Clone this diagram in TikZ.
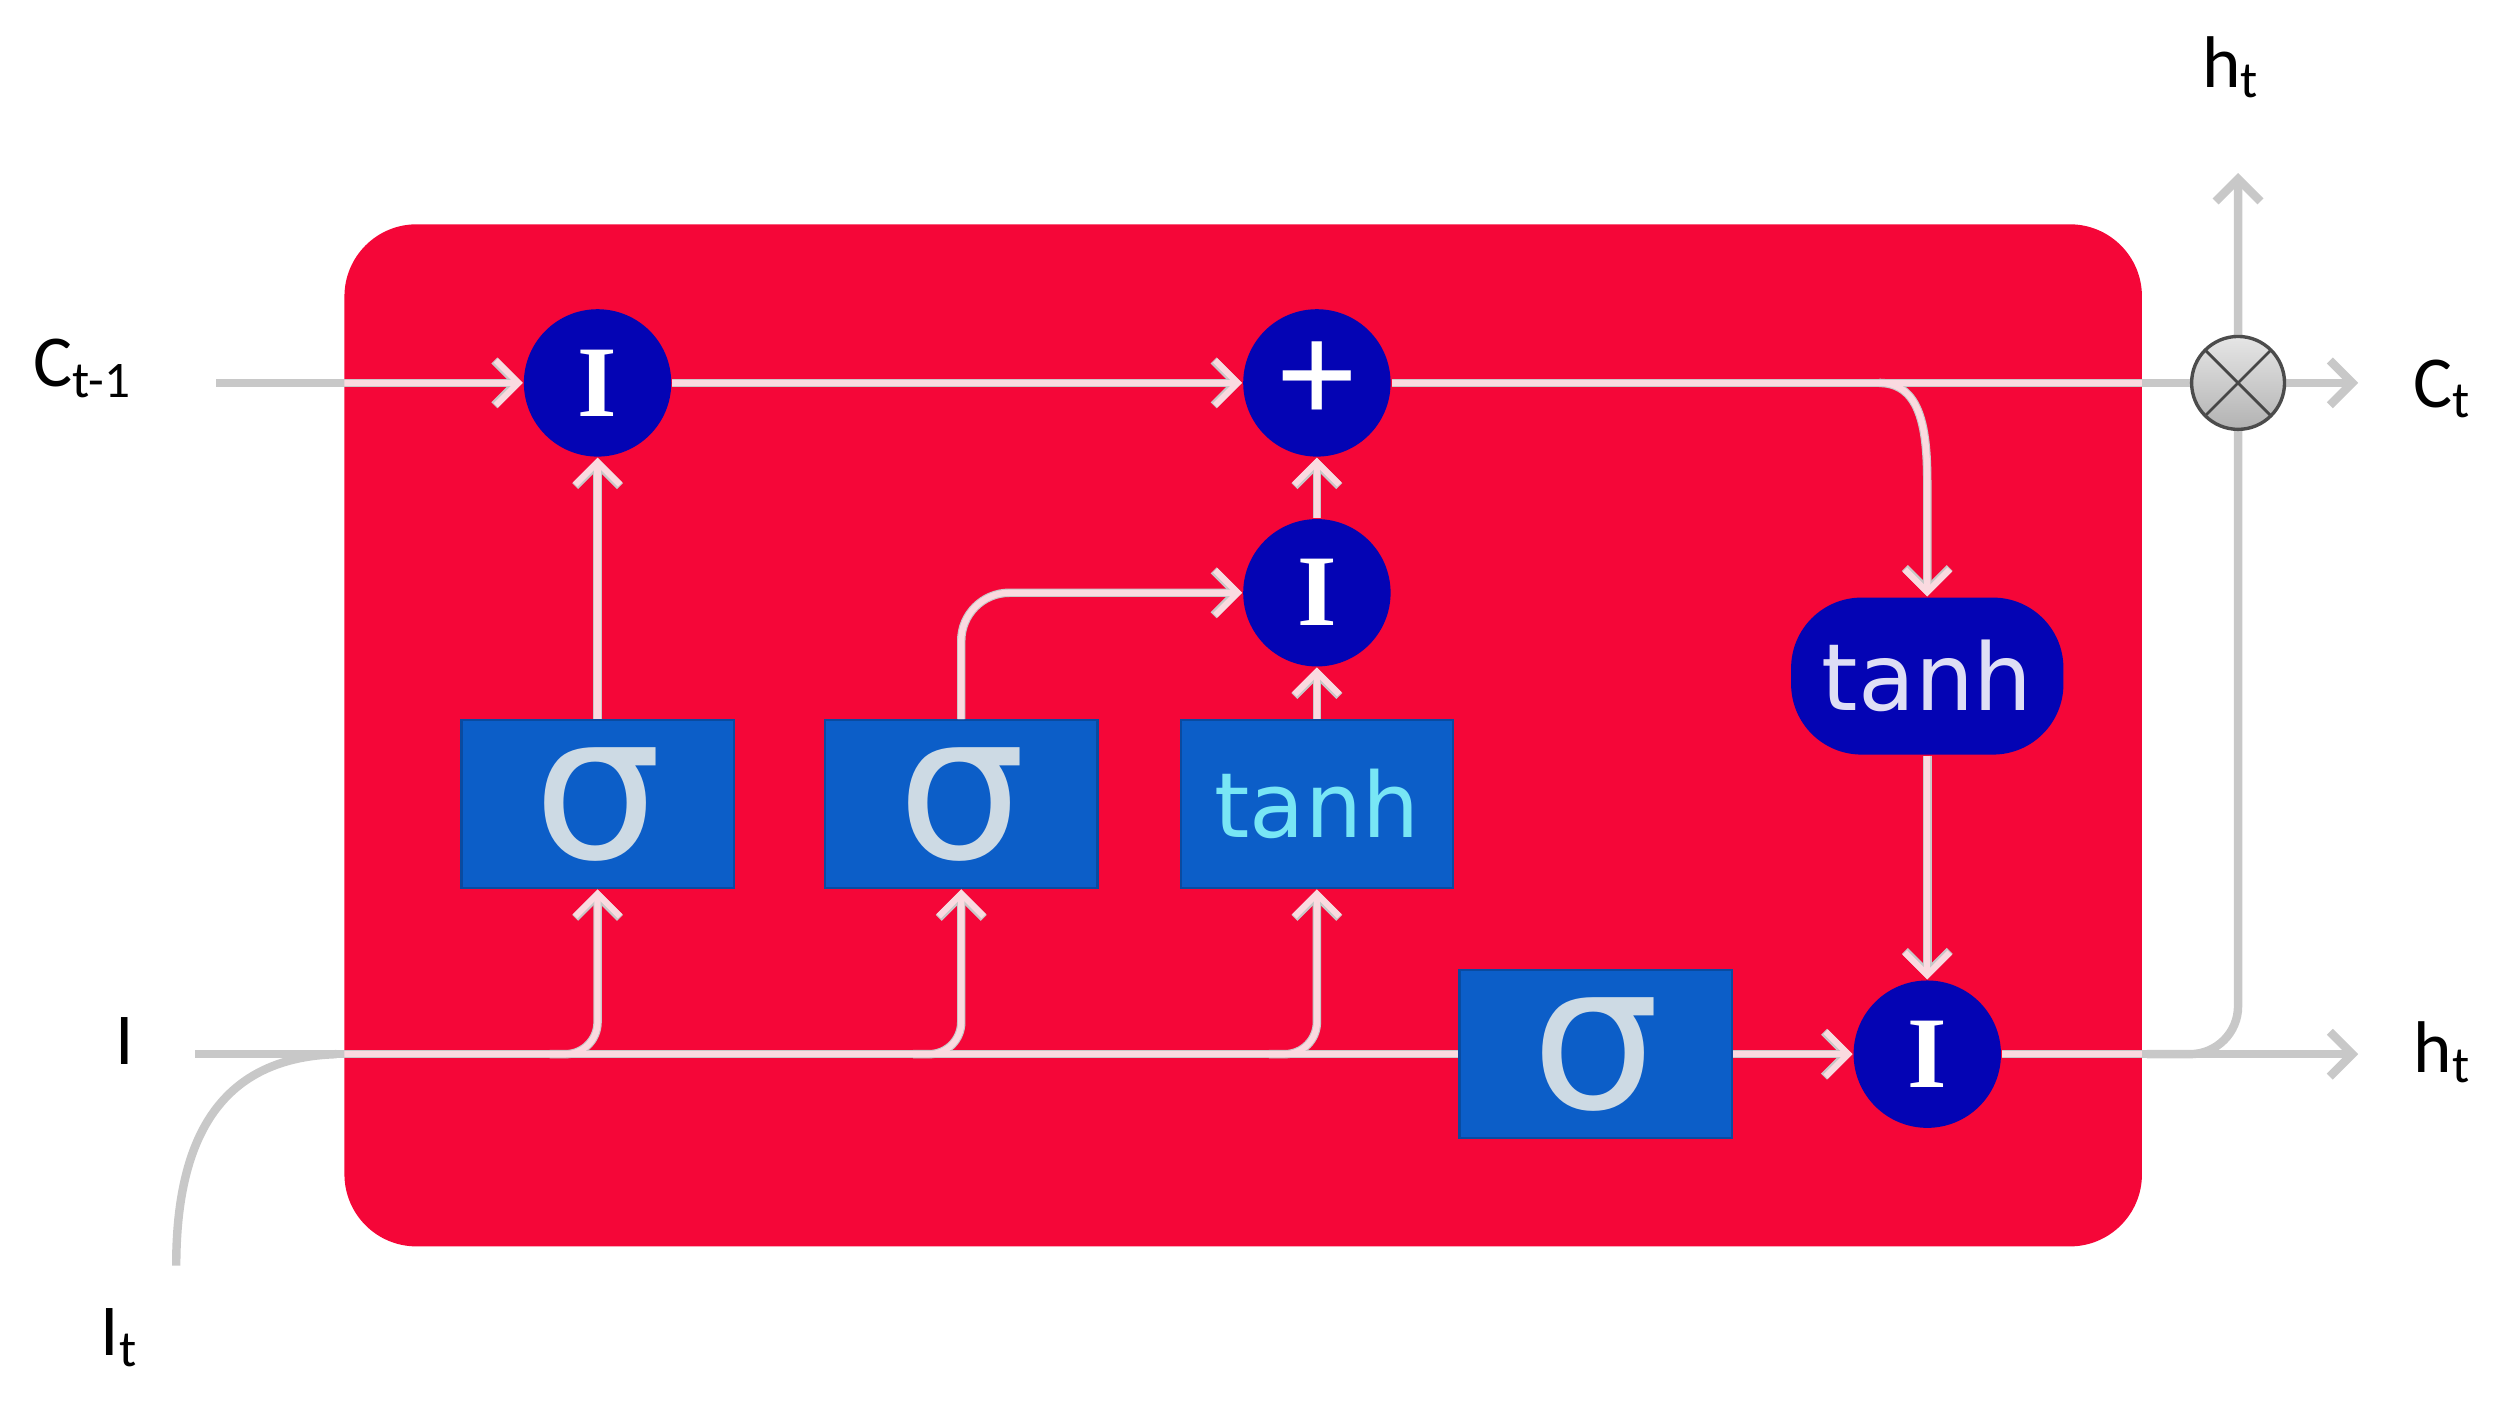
\documentclass[tikz,border=0pt]{standalone}
\usepackage{fontspec}
\setmainfont{Carlito}
\newfontfamily\gatefont{DejaVu Sans}
\newfontfamily\opfont{Liberation Serif}
\usetikzlibrary{arrows.meta}
\definecolor{cellred}{RGB}{245,6,56}
\definecolor{gateblue}{RGB}{4,4,180}
\definecolor{boxblue}{RGB}{12,94,200}
\definecolor{wirein}{RGB}{250,218,224}
\definecolor{wireout}{RGB}{200,200,200}
\definecolor{sigcol}{RGB}{205,218,228}
\definecolor{tanhcyan}{RGB}{120,230,245}
\definecolor{tanhlav}{RGB}{222,222,245}
\newcommand{\wires}[2]{%
    \begin{scope}[color=#1,line width=#2]
        \draw[arr] (cin) -- (m1.west);
        \draw[arr] (m1.east) -- (add.west);
        \draw[arr] (add.east) -- (ctout);
        \draw[arr] (s1.north) -- (m1.south);
        \draw[arr] (t1.north) -- (m2.south);
        \draw[arr] (m2.north) -- (add.south);
        \draw[arr,rounded corners=3mm] (s2.north) |- (m2.west);
        \draw (hin) -- (s3.west);
        \draw (itin) .. controls (1.10,1.75) and (1.40,2.22) .. (2.10,2.24);
        \draw[arr] (s3.east) -- (m3.west);
        \draw[arr] (m3.east) -- (htout);
        \foreach \n in {s1,s2,t1}
            \draw[arr,rounded corners=2mm] (\n.south |- hin) ++(-0.3,0) -| (\n.south);
        \draw[arr] (t2.north |- add.east) ++(-0.3,0) to[out=0,in=90] ++(0.3,-0.75) -- (t2.north);
        \draw[arr] (t2.south) -- (m3.north);
        \draw[arr,rounded corners=3mm] (htop |- hin) ++(-0.57,0) -| (htop);
    \end{scope}
}

\begin{document}
\begin{tikzpicture}[
    arr/.style={-{Straight Barb[length=1.4mm,width=2.8mm]}},
    gate/.style={circle,fill=gateblue,minimum size=9.2mm,inner sep=0pt,
        text=white,font=\opfont\bfseries\fontsize{18}{18}\selectfont},
    layer/.style={rectangle,fill=boxblue,draw=boxblue!80!black,line width=0.4pt,
        minimum width=17mm,minimum height=10.5mm,inner sep=0pt},
    sig/.style={layer,text=sigcol,font=\gatefont\fontsize{36}{36}\selectfont},
    lbl/.style={font=\fontsize{13}{15}\selectfont}
]
    \useasboundingbox (0,0) rectangle (15.68,8.82);
    \fill[cellred,rounded corners=4.5mm] (2.15,1.04) rectangle (13.37,7.42);

    \node[gate] (m1) at (3.73,6.43) {I};
    \node[gate,font=\opfont\bfseries\fontsize{26}{26}\selectfont] (add) at (8.22,6.43) {+};
    \node[gate] (m2) at (8.22,5.12) {I};
    \node[gate] (m3) at (12.03,2.24) {I};
    \node[sig] (s1) at (3.73,3.80) {σ};
    \node[sig] (s2) at (6.00,3.80) {σ};
    \node[layer,text=tanhcyan,font=\gatefont\fontsize{16}{16}\selectfont] (t1) at (8.22,3.80) {tanh};
    \node[sig] (s3) at (9.96,2.24) {σ};
    \node[rectangle,rounded corners=4.4mm,fill=gateblue,minimum width=17mm,minimum height=9.8mm,
        text=tanhlav,font=\gatefont\fontsize{16.5}{16.5}\selectfont] (t2) at (12.03,4.60) {tanh};

    \coordinate (cin) at (1.35,6.43);
    \coordinate (ctout) at (14.72,6.43);
    \coordinate (hin) at (1.22,2.24);
    \coordinate (htout) at (14.72,2.24);
    \coordinate (itin) at (1.10,0.92);
    \coordinate (htop) at (13.97,7.74);

    \wires{wireout}{1.5pt}
    \begin{scope}
        \clip[rounded corners=4.5mm] (2.15,1.04) rectangle (13.37,7.42);
        \wires{wirein}{1.1pt}
    \end{scope}

    \node[circle,minimum size=5.8mm,inner sep=0pt,draw=gray!60!black,line width=0.6pt,
        top color=gray!20,bottom color=gray!60,
        path picture={\draw[gray!55!black,line width=0.5pt]
            (path picture bounding box.north west) -- (path picture bounding box.south east)
            (path picture bounding box.north east) -- (path picture bounding box.south west);}]
        (cross) at (htop |- cin) {};

    \node[lbl] (lc) at (0.52,6.52) {C\textsubscript{t-1}};
    \node[lbl] (lht) at (13.93,8.40) {h\textsubscript{t}};
    \node[lbl] (lct) at (15.25,6.39) {C\textsubscript{t}};
    \node[lbl] (lhr) at (15.25,2.25) {h\textsubscript{t}};
    \node[lbl] (li) at (0.78,2.32) {I};
    \node[lbl] (lit) at (0.75,0.47) {I\textsubscript{t}};
\end{tikzpicture}
\end{document}
